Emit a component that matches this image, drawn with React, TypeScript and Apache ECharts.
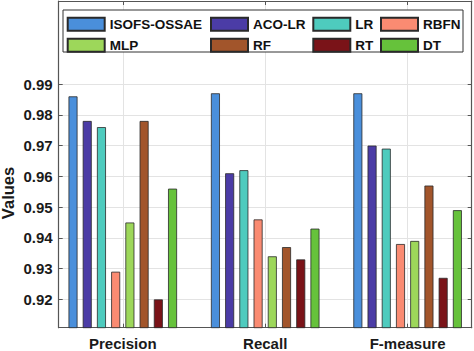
import React, { useEffect, useRef } from "react";
import * as echarts from "echarts";

const categories = ["Precision", "Recall", "F-measure"];
const seriesNames = ["ISOFS-OSSAE", "ACO-LR", "LR", "RBFN", "MLP", "RF", "RT", "DT"];
const seriesColors = ["#4a8fdb", "#4b3ca6", "#4ecbbe", "#fa8b72", "#9dd75a", "#a2552b", "#7a1318", "#66c23b"];
const isofsOssae = [0.986, 0.987, 0.987];
const acoLr = [0.978, 0.961, 0.970];
const lr = [0.976, 0.962, 0.969];
const rbfn = [0.929, 0.946, 0.938];
const mlp = [0.945, 0.934, 0.939];
const rf = [0.978, 0.937, 0.957];
const rt = [0.920, 0.933, 0.927];
const dt = [0.956, 0.943, 0.949];
const yTicks = [0.92, 0.93, 0.94, 0.95, 0.96, 0.97, 0.98, 0.99];
const xPositions = [1, 2, 3];

const allValues = [isofsOssae, acoLr, lr, rbfn, mlp, rf, rt, dt];

const FONT = "'Liberation Sans', Arial, sans-serif";
const FRAME = "#555555";

export default function App() {
  const ref = useRef<HTMLDivElement>(null);
  useEffect(() => {
    if (!ref.current) return;
    const chart = echarts.init(ref.current, null, { renderer: "svg" });
    const series = seriesNames.map((name, i) => ({
      name,
      type: "bar",
      xAxisIndex: 0,
      yAxisIndex: 0,
      barWidth: 9,
      barGap: "58%",
      data: allValues[i].map((v, j) => [xPositions[j], v]),
      itemStyle: { color: seriesColors[i], borderColor: "#2a2a2a", borderWidth: 0.8 },
    }));
    const legendCols = [66.7, 210, 312.3, 380];
    const legends = legendCols.map((left, c) => ({
      orient: "vertical",
      left,
      top: 16.8,
      padding: 0,
      z: 20,
      icon: "rect",
      itemWidth: 37,
      itemHeight: 13,
      itemGap: 6,
      selectedMode: false,
      data: [seriesNames[c], seriesNames[c + 4]],
      textStyle: { fontFamily: FONT, fontWeight: "bold", fontSize: 13.5, color: "#111", lineHeight: 13 },
    }));
    const labelFmt = (v: number) => {
      const idx = xPositions.indexOf(Math.round(v));
      return Math.abs(v - Math.round(v)) < 1e-6 && idx >= 0 ? categories[idx] : "";
    };
    chart.setOption({
      animation: false,
      backgroundColor: "#ffffff",
      grid: { left: 58.7, right: 2.3, top: 1, bottom: 23.3, containLabel: false },
      legend: legends,
      xAxis: [
        {
          type: "value",
          min: 0.55,
          max: 3.45,
          position: "bottom",
          axisLine: { show: true, lineStyle: { color: FRAME, width: 1.2 } },
          axisTick: { show: true, inside: true, length: 4, customValues: xPositions, lineStyle: { color: FRAME } },
          axisLabel: {
            customValues: xPositions,
            formatter: labelFmt,
            margin: 8,
            fontFamily: FONT,
            fontWeight: "bold",
            fontSize: 15,
            color: "#1a1a1a",
          },
          splitLine: { show: true, lineStyle: { color: "#e3e3e3", width: 1 } },
        },
        {
          type: "value",
          min: 0.55,
          max: 3.45,
          position: "top",
          axisLine: { show: true, lineStyle: { color: FRAME, width: 1.2 } },
          axisTick: { show: true, inside: true, length: 4, customValues: xPositions, lineStyle: { color: FRAME } },
          axisLabel: { show: false },
          splitLine: { show: false },
        },
      ],
      yAxis: [
        {
          type: "value",
          min: 0.9108,
          max: 1.017,
          position: "left",
          axisLine: { show: true, lineStyle: { color: FRAME, width: 1.2 } },
          axisTick: { show: true, inside: true, length: 4, customValues: yTicks, lineStyle: { color: FRAME } },
          axisLabel: {
            customValues: yTicks,
            formatter: (v: number) => v.toFixed(2),
            margin: 6,
            fontFamily: FONT,
            fontWeight: "bold",
            fontSize: 15,
            color: "#1a1a1a",
          },
          splitLine: { show: true, lineStyle: { color: "#e3e3e3", width: 1 } },
        },
        {
          type: "value",
          min: 0.9108,
          max: 1.017,
          position: "right",
          axisLine: { show: true, lineStyle: { color: FRAME, width: 1.2 } },
          axisTick: { show: true, inside: true, length: 4, customValues: yTicks, lineStyle: { color: FRAME } },
          axisLabel: { show: false },
          splitLine: { show: false },
        },
      ],
      graphic: [
        {
          type: "rect",
          shape: { x: 63, y: 10, width: 400, height: 42 },
          style: { fill: "#ffffff", stroke: "#333333", lineWidth: 1 },
          z: 3,
        },
        {
          type: "text",
          x: 7.5,
          y: 193,
          rotation: Math.PI / 2,
          style: {
            text: "Values",
            fontFamily: FONT,
            fontWeight: "bold",
            fontSize: 16.5,
            fill: "#1a1a1a",
            align: "center",
            verticalAlign: "middle",
          },
        },
      ],
      series,
    });
    return () => chart.dispose();
  }, []);
  return <div ref={ref} style={{ width: 474, height: 351, position: "absolute", left: 0, top: 0 }} />;
}
